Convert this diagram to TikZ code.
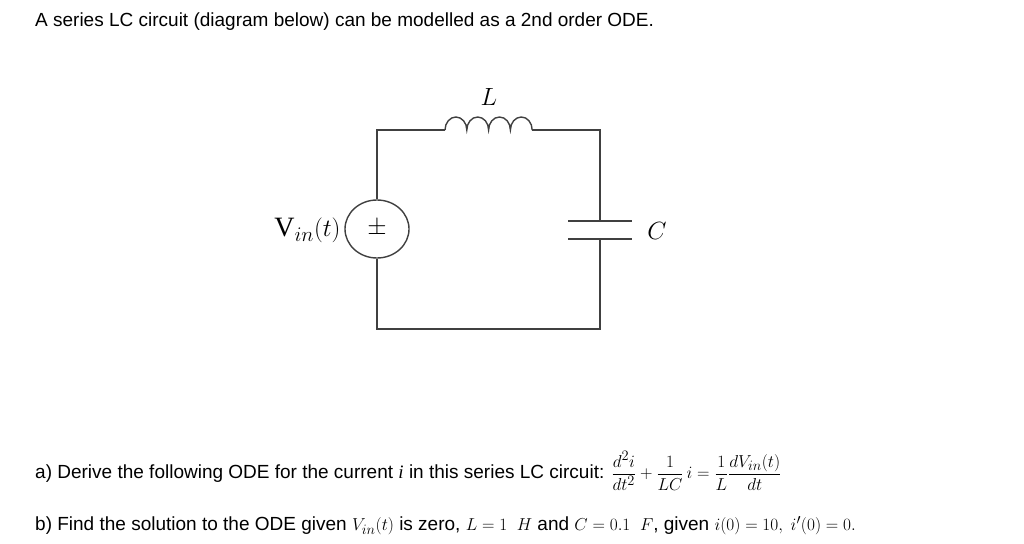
\documentclass[tikz,border=0pt]{standalone}
\usepackage{fontspec}
\usetikzlibrary{shapes.geometric}
\setmainfont{Liberation Sans}
\newfontfamily\serif{Liberation Serif}
\begin{document}
\begin{tikzpicture}[x=1pt,y=-1pt,wire/.style={line width=1.4pt,draw=black!75},
 txt/.style={anchor=west,inner sep=0pt,font=\fontsize{19}{22}\selectfont}]
\useasboundingbox (0,0) rectangle (1024,543);
\node[txt] (t1) at (35,22) {A series LC circuit (diagram below) can be modelled as a 2nd order ODE.};
\coordinate (tl) at (377,130); \coordinate (tr) at (600,130);
\coordinate (bl) at (377,329); \coordinate (br) at (600,329);
\coordinate (la) at (445,130); \coordinate (lb) at (532,130);
\node[ellipse,draw=black!75,line width=1.4pt,minimum width=64pt,minimum height=58pt,inner sep=0pt] (src) at (377,229) {};
\node[font=\fontsize{26}{26}\selectfont] (pm) at (377,228) {$\pm$};
\coordinate (c1) at (600,221); \coordinate (c2) at (600,239);
\draw[wire] (src.north) -- (tl) -- (la);
\draw[wire] (la) arc[start angle=180,end angle=0,x radius=10.9pt,y radius=13pt]
 arc[start angle=180,end angle=0,x radius=10.9pt,y radius=13pt]
 arc[start angle=180,end angle=0,x radius=10.9pt,y radius=13pt]
 arc[start angle=180,end angle=0,x radius=10.9pt,y radius=13pt];
\draw[wire] (lb) -- (tr) -- (c1);
\draw[wire] (c2) -- (br) -- (bl) -- (src.south);
\draw[wire] (568,221) -- (632,221);
\draw[wire] (568,239) -- (632,239);
\node[font=\fontsize{28}{28}\selectfont] (L) at (489,97) {$L$};
\node[font=\fontsize{28}{28}\selectfont] (C) at (657,231) {$C$};
\node[font=\fontsize{28}{28}\selectfont,anchor=east] (V) at (344,230) {{\serif V}$_{in}(t)$};
\node[txt] (ta) at (35,471) {a) Derive the following ODE for the current {\serif\itshape i} in this series LC circuit: $\displaystyle\frac{d^2i}{dt^2}+\frac{1}{LC}\,i=\frac{1}{L}\frac{dV_{in}(t)}{dt}$};
\node[txt] (tb) at (35,526) {b) Find the solution to the ODE given $V_{in}(t)$ is zero, $L=1\;\;H$ and $C=0.1\;\;F$, given $i(0)=10,\;i'(0)=0.$};
\end{tikzpicture}
\end{document}
